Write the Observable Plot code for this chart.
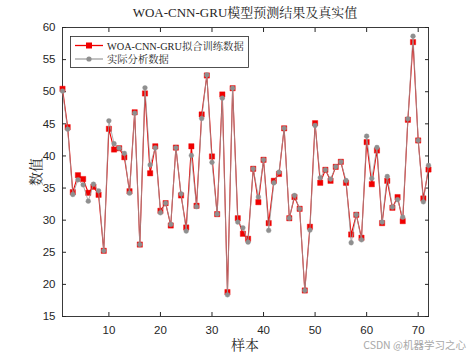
<!DOCTYPE html>
<html>
<head>
<meta charset="utf-8">
<script src="https://cdn.jsdelivr.net/npm/d3@7"></script>
<script src="https://cdn.jsdelivr.net/npm/@observablehq/plot@0.6"></script>
<style>
  html, body { margin: 0; padding: 0; background: #fff; }
  #chart svg { display: block; }
</style>
</head>
<body>
<div id="chart"></div>
<script>
const title = "WOA-CNN-GRU模型预测结果及真实值";
const xLabel = "样本";
const yLabel = "数值";
const seriesNames = ["WOA-CNN-GRU拟合训练数据", "实际分析数据"];
const xTicks = [10, 20, 30, 40, 50, 60, 70];
const yTicks = [15, 20, 25, 30, 35, 40, 45, 50, 55, 60];

const fitted = [50.45,44.48,34.36,37.0,36.4,34.26,35.2,33.95,25.23,44.22,
  41.0,41.2,39.8,34.5,46.8,26.2,49.73,37.3,41.5,31.46,
  32.65,29.17,41.3,33.85,28.86,41.5,32.24,46.46,52.53,39.92,
  30.94,49.57,18.8,50.55,30.3,27.88,27.1,38.0,32.8,39.4,
  29.54,36.13,37.2,44.3,30.3,33.59,31.77,19.05,28.97,45.1,
  35.82,37.84,36.13,38.3,39.09,35.82,27.77,30.84,27.26,42.15,
  35.6,40.85,29.54,36.13,31.93,33.59,29.85,45.63,57.72,42.41,
  33.38,37.89];
const actual = [50.1,44.17,34.0,36.28,35.5,32.96,35.6,34.57,25.23,45.47,
  41.9,41.2,40.4,34.2,46.66,26.2,50.6,38.6,41.27,31.15,
  32.65,29.33,41.27,34.1,28.3,40.07,32.1,45.83,52.6,39.0,
  30.94,49.0,18.38,50.55,29.7,28.8,26.58,38.0,33.6,39.4,
  28.4,35.8,37.48,44.3,30.3,33.85,31.77,19.05,28.45,44.74,
  36.6,37.84,36.4,38.3,39.09,36.18,26.48,30.84,26.94,43.08,
  36.5,41.32,29.7,36.8,32.03,33.2,30.47,45.78,58.65,42.41,
  32.86,38.52];

const data = fitted.map((v, k) => ({i: k + 1, fit: v, act: actual[k]}));

const RED = "#f00000";
const GRAY = "#8f8f8f";
const AX = "#262626";

const plot = Plot.plot({
  width: 474,
  height: 355,
  marginLeft: 62,
  marginRight: 46,
  marginTop: 27,
  marginBottom: 39,
  style: {fontFamily: "'Liberation Sans', Arial, sans-serif", fontSize: "11.5px", color: AX, background: "#fff"},
  x: {domain: [1, 72]},
  y: {domain: [15, 60]},
  marks: [
    Plot.axisX({anchor: "bottom", ticks: xTicks, tickSize: -4, tickPadding: 13, label: null, stroke: AX, fill: AX}),
    Plot.axisX({anchor: "top", ticks: xTicks, tickSize: -4, tickFormat: () => "", label: null, stroke: AX}),
    Plot.axisY({anchor: "left", ticks: yTicks, tickSize: -4, tickPadding: 11, label: null, stroke: AX, fill: AX}),
    Plot.axisY({anchor: "right", ticks: yTicks, tickSize: -4, tickFormat: () => "", label: null, stroke: AX}),
    Plot.frame({stroke: AX, strokeWidth: 0.9}),
    Plot.line(data, {x: "i", y: "fit", stroke: RED, strokeWidth: 1.1}),
    Plot.dot(data, {x: "i", y: "fit", symbol: "square", r: 3.0, fill: RED, stroke: RED, strokeWidth: 0.4}),
    Plot.line(data, {x: "i", y: "act", stroke: "#9a9a9a", strokeWidth: 1.0, strokeOpacity: 0.8}),
    Plot.dot(data, {x: "i", y: "act", r: 2.4, fill: GRAY, stroke: GRAY, strokeWidth: 0.4})
  ]
});
document.getElementById("chart").appendChild(plot);

const svg = d3.select(plot);
const serif = "'Liberation Serif', 'Times New Roman', 'Noto Serif CJK SC', 'Noto Sans CJK SC', serif";

svg.append("text").attr("x", 245).attr("y", 17).attr("text-anchor", "middle")
  .attr("font-family", serif).attr("font-size", 13).attr("fill", AX).text(title);
svg.append("text").attr("x", 245).attr("y", 350).attr("text-anchor", "middle")
  .attr("font-family", serif).attr("font-size", 14).attr("fill", AX).text(xLabel);
svg.append("text").attr("transform", "translate(41,172) rotate(-90)").attr("text-anchor", "middle")
  .attr("font-family", serif).attr("font-size", 14).attr("fill", AX).text(yLabel);

// legend
const lg = svg.append("g");
lg.append("rect").attr("x", 70.5).attr("y", 36.5).attr("width", 178).attr("height", 31)
  .attr("fill", "#fff").attr("stroke", AX).attr("stroke-width", 0.8);
lg.append("line").attr("x1", 75).attr("x2", 103).attr("y1", 45.5).attr("y2", 45.5).attr("stroke", RED).attr("stroke-width", 1.3);
lg.append("rect").attr("x", 86).attr("y", 42.5).attr("width", 6).attr("height", 6).attr("fill", RED);
lg.append("line").attr("x1", 75).attr("x2", 103).attr("y1", 59).attr("y2", 59).attr("stroke", "#999").attr("stroke-width", 1.2);
lg.append("circle").attr("cx", 89).attr("cy", 59).attr("r", 2.6).attr("fill", GRAY);
lg.append("text").attr("x", 107).attr("y", 49.5).attr("text-anchor", "start").attr("font-family", serif).attr("font-size", 10.3).attr("fill", AX).text(seriesNames[0]);
lg.append("text").attr("x", 107).attr("y", 63).attr("text-anchor", "start").attr("font-family", serif).attr("font-size", 10.3).attr("fill", AX).text(seriesNames[1]);

svg.append("text").attr("x", 466).attr("y", 349).attr("text-anchor", "end")
  .attr("font-family", "'Noto Sans CJK SC', sans-serif").attr("font-size", 10.5).attr("fill", "#a8a8a8").text("CSDN @机器学习之心");
</script>
</body>
</html>
